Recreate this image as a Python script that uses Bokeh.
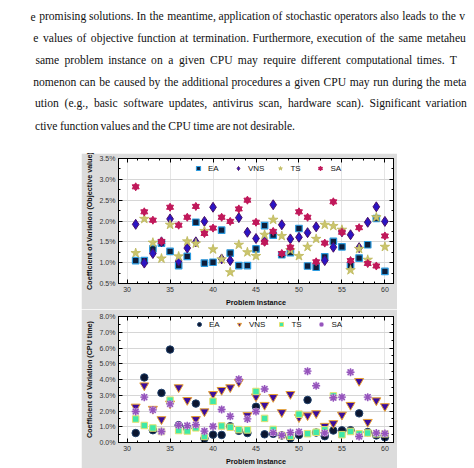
from bokeh.plotting import figure
from bokeh.models import (Range1d, LinearAxis, SingleIntervalTicker, PrintfTickFormatter,
                          CustomJSTickFormatter, Legend, LegendItem, ColumnDataSource, Grid)
from bokeh.layouts import column
from bokeh.core.properties import value
from bokeh.embed import file_html
from bokeh.resources import INLINE

# ---------------- data ----------------
instances = list(range(31, 61))

obj_ea = [1.05, 1.05, 1.33, 1.47, 1.27, 0.93, 1.15, 1.97, 0.99, 1.01, 1.78, 1.23, 0.93, 0.93, 1.33,
          1.89, 1.66, 1.19, 1.24, 1.82, 0.92, 0.89, 1.14, 1.51, 1.38, 0.93, 1.11, 1.43, 2.06, 0.79]
obj_vns = [1.92, 0.99, 1.22, 1.50, 2.05, 1.04, 1.35, 1.50, 1.99, 2.33, 1.09, 1.05, 2.08, 1.73, 1.58,
           1.52, 2.39, 1.91, 1.57, 1.61, 1.72, 1.86, 1.05, 1.37, 1.74, 1.67, 1.36, 1.97, 2.34, 1.99]
obj_ts = [1.23, 2.05, 1.48, 1.10, 1.91, 1.15, 1.51, 1.46, 1.76, 1.32, 1.08, 0.77, 1.43, 1.25, 1.16,
          1.67, 2.03, 1.64, 1.30, 1.16, 1.38, 1.57, 1.91, 1.88, 1.79, 0.82, 1.33, 1.07, 2.09, 1.38]
obj_sa = [2.82, 2.22, 2.02, 1.51, 2.33, 1.90, 2.09, 2.35, 1.70, 1.83, 2.09, 1.99, 2.29, 2.50, 1.97,
          1.49, 1.75, 1.22, 1.37, 2.22, 2.09, 1.02, 1.47, 2.46, 1.73, 1.05, 1.84, 0.98, 0.92, 1.64]

cpu_ea = [0.60, 4.13, 0.78, 3.15, 5.90, 1.10, 0.90, 2.47, 0.25, 0.50, 0.48, 1.03, 0.74, 0.60, 2.27,
          0.52, 0.55, 0.45, 0.27, 0.48, 2.70, 0.63, 0.40, 0.76, 0.77, 0.78, 1.85, 0.66, 0.45, 0.33]
cpu_vns = [2.27, 3.62, 2.13, 1.47, 2.47, 3.50, 2.69, 1.48, 1.97, 3.07, 3.33, 3.50, 3.84, 1.73, 2.92,
           2.38, 2.88, 1.92, 3.07, 1.60, 1.72, 1.85, 1.05, 1.22, 1.76, 2.38, 3.90, 1.30, 2.67, 2.30]
cpu_ts = [1.49, 1.08, 0.92, 0.70, 2.69, 0.76, 0.73, 0.93, 0.38, 2.62, 1.05, 0.97, 0.82, 0.80, 3.24,
          1.53, 0.83, 0.45, 0.39, 1.80, 0.56, 0.65, 0.80, 2.96, 0.50, 0.70, 0.55, 0.60, 0.55, 0.55]
cpu_sa = [1.97, 2.88, 2.07, 0.70, 2.45, 1.10, 1.07, 1.13, 0.72, 1.02, 2.10, 1.66, 4.02, 1.50, 1.97,
          3.40, 0.62, 0.46, 0.63, 0.67, 4.53, 3.60, 0.60, 2.84, 2.88, 4.46, 0.38, 2.88, 0.60, 0.57]

series_names = ["EA", "VNS", "TS", "SA"]
x_label = "Problem Instance"
y_label_obj = "Coefficient of Variation (Objective value)"
y_label_cpu = "Coefficient of Variation (CPU time)"

para_lines = [
    "e promising solutions. In the meantime, application of stochastic operators also leads to the v",
    "e values of objective function at termination. Furthermore, execution of the same metaheu",
    "same problem instance on a given CPU may require different computational times. T",
    "nomenon can be caused by the additional procedures a given CPU may run during the meta",
    "ution (e.g., basic software updates, antivirus scan, hardware scan). Significant variation",
    "ctive function values and the CPU time are not desirable.",
]

# ---------------- paragraph text (justified word by word) ----------------
TIMES = {" ": 250, "(": 333, ")": 333, ",": 250, ".": 250, "-": 333,
         "a": 444, "b": 500, "c": 444, "d": 500, "e": 444, "f": 333, "g": 500, "h": 500,
         "i": 278, "j": 278, "k": 500, "l": 278, "m": 778, "n": 500, "o": 500, "p": 500,
         "q": 500, "r": 333, "s": 389, "t": 278, "u": 500, "v": 500, "w": 722, "x": 500,
         "y": 500, "z": 444, "C": 667, "F": 556, "I": 333, "P": 556, "S": 556, "T": 611, "U": 722}
METRIC_FS = 12.4     # size whose Times metrics define the word slots
RENDER_FS = 11.6     # rendered size (the browser's serif runs a little wider)
line_start = [1, 4, 6.5, 4, 6, 6]
line_end = [476, 476, 467, 477, 477, None]
line_y = [16, 37.7, 60, 81.7, 103.3, 126]

wx, wy, wt = [], [], []
for text, x0, x1, yy in zip(para_lines, line_start, line_end, line_y):
    words = text.split(" ")
    widths = [sum(TIMES.get(c, 500) for c in w) * METRIC_FS / 1000 for w in words]
    if x1 is None:
        gap = 250 * METRIC_FS / 1000
    else:
        gap = (x1 - x0 - sum(widths)) / (len(words) - 1)
    xc = x0
    for w, wd in zip(words, widths):
        wx.append(xc)
        wy.append(yy)
        wt.append(w)
        xc += wd + gap

TEXT_W = 482
tp = figure(width=TEXT_W, height=153, x_range=Range1d(0, TEXT_W), y_range=Range1d(153, 0),
            x_axis_type=None, y_axis_type=None, output_backend="svg", toolbar_location=None,
            min_border=0, min_border_left=0, min_border_right=0, min_border_top=0,
            min_border_bottom=0, outline_line_color=None, background_fill_color="white",
            border_fill_color="white")
tp.grid.visible = False
tp.text(x="x", y="y", text="t", source=ColumnDataSource(dict(x=wx, y=wy, t=wt)),
        text_font=value("Liberation Serif"), text_font_size=f"{RENDER_FS}px",
        text_color="#111111", text_align="left", text_baseline="middle")

# ---------------- charts ----------------
SANS = "Liberation Sans"
EMPTY = CustomJSTickFormatter(code="return ''")


def base_chart(height, top_border, y0, y1, y_int, ylab):
    p = figure(width=316, height=height, x_range=Range1d(29, 61), y_range=Range1d(y0, y1),
               x_axis_location=None, y_axis_location=None,
               output_backend="svg", toolbar_location=None,
               min_border_left=33, min_border_right=4, min_border_top=top_border,
               min_border_bottom=22, background_fill_color="white",
               border_fill_color="#dcdcdc", outline_line_color="black",
               outline_line_width=1, margin=(0, 0, 0, 89))
    xt = SingleIntervalTicker(interval=5, num_minor_ticks=4)
    yt = SingleIntervalTicker(interval=y_int, num_minor_ticks=2)
    bottom = LinearAxis(ticker=xt, axis_label=x_label)
    left = LinearAxis(ticker=yt, axis_label=ylab, formatter=PrintfTickFormatter(format="%.1f%%"))
    top = LinearAxis(ticker=xt, formatter=EMPTY, major_label_standoff=0,
                     major_label_text_font_size="1px")
    right = LinearAxis(ticker=yt, formatter=EMPTY, major_label_standoff=0,
                       major_label_text_font_size="1px")
    p.add_layout(bottom, "below")
    p.add_layout(left, "left")
    p.add_layout(top, "above")
    p.add_layout(right, "right")
    p.add_layout(Grid(dimension=1, ticker=yt, grid_line_color="#d6d6d6"))
    for ax in (bottom, left, top, right):
        ax.major_tick_in = 4
        ax.major_tick_out = 0
        ax.minor_tick_in = 2
        ax.minor_tick_out = 0
        ax.axis_line_color = "black"
        ax.major_tick_line_color = "black"
        ax.minor_tick_line_color = "black"
    for ax in (bottom, left):
        ax.major_label_text_font = SANS
        ax.major_label_text_font_size = "7px"
        ax.major_label_text_color = "#333333"
        ax.major_label_standoff = 3
        ax.axis_label_text_font = SANS
        ax.axis_label_text_font_size = "7.2px"
        ax.axis_label_text_font_style = "bold"
        ax.axis_label_text_color = "#111111"
        ax.axis_label_standoff = 3
    return p


def add_legend(p, items, loc):
    lg = Legend(items=items, orientation="horizontal", location=loc,
                background_fill_alpha=0, border_line_color=None,
                glyph_width=10, glyph_height=10, label_width=14, label_height=10,
                label_standoff=5, spacing=11, padding=2, margin=0,
                label_text_font=SANS, label_text_font_size="8px", label_text_color="#111111")
    p.add_layout(lg)


# top chart: objective value
p1 = base_chart(156, 5, 0.5, 3.5, 0.5, y_label_obj)
r_ea = p1.scatter(instances, obj_ea, marker="square", size=6.5, fill_color="#0e1e3a",
                  line_color="#2c9be0", line_width=1.2)
r_vns = p1.scatter(instances, obj_vns, marker="diamond", size=10, fill_color="#2b14c4",
                   line_color="#4a1068", line_width=1)
r_ts = p1.scatter(instances, obj_ts, marker="star", size=10, fill_color="#cbc56c",
                  line_color="#bdb75a", line_width=0.8)
r_sa1 = p1.scatter(instances, obj_sa, marker="triangle", size=7, fill_color="#c0185a",
                   line_color="#c0185a")
r_sa2 = p1.scatter(instances, obj_sa, marker="inverted_triangle", size=7, fill_color="#c0185a",
                   line_color="#c0185a")
add_legend(p1, [LegendItem(label=series_names[0], renderers=[r_ea]),
                LegendItem(label=series_names[1], renderers=[r_vns]),
                LegendItem(label=series_names[2], renderers=[r_ts]),
                LegendItem(label=series_names[3], renderers=[r_sa1, r_sa2])], (75, 110))

# bottom chart: CPU time
p2 = base_chart(159, 7, 0.0, 8.0, 1.0, y_label_cpu)
q_ea = p2.scatter(instances, cpu_ea, marker="circle", size=7.5, fill_color="#0b1630",
                  line_color="#20406a", line_width=1)
q_vns = p2.scatter(instances, cpu_vns, marker="inverted_triangle", size=9, fill_color="#3c0d9c",
                   line_color="#e8a030", line_width=1)
q_ts = p2.scatter(instances, cpu_ts, marker="square", size=6.5, fill_color="#40e8a8",
                  line_color="#e4e070", line_width=1)
q_sa0 = p2.scatter(instances, cpu_sa, marker="square", size=6.5, fill_color="#d6c2e8",
                   line_color=None)
q_sa = p2.scatter(instances, cpu_sa, marker="asterisk", size=8, line_color="#9654bc",
                  line_width=1.4)
add_legend(p2, [LegendItem(label=series_names[0], renderers=[q_ea]),
                LegendItem(label=series_names[1], renderers=[q_vns]),
                LegendItem(label=series_names[2], renderers=[q_ts]),
                LegendItem(label=series_names[3], renderers=[q_sa0, q_sa])], (76, 113))

layout = column(tp, p1, p2, spacing=0, margin=(0, 0, -8, -8))

open("out.html", "w").write(file_html(layout, INLINE))
